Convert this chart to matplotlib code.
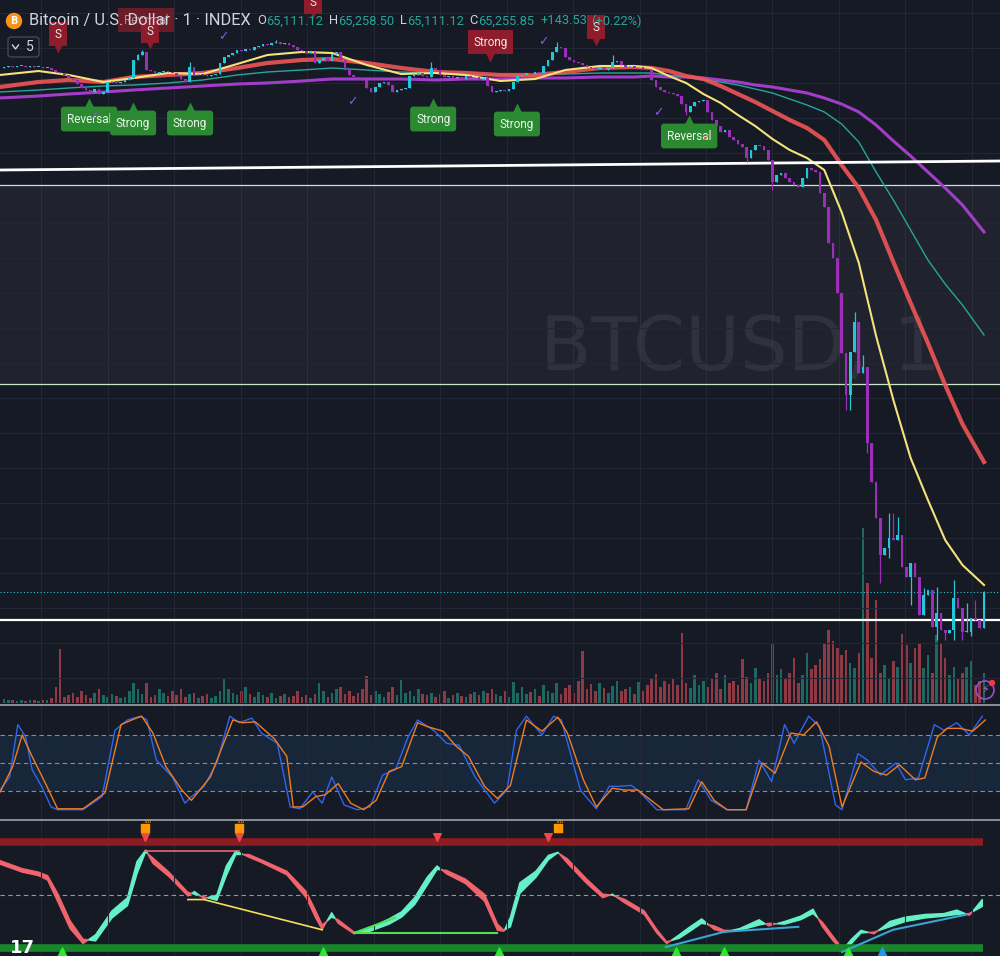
import matplotlib
matplotlib.use('Agg')
import matplotlib.pyplot as plt
from matplotlib.patches import Circle, FancyBboxPatch
from matplotlib.lines import Line2D
import numpy as np

# ---- price data (1 minute candles, BTCUSD) ----
first_open = 67352
closes = [
    67356, 67360, 67356, 67360, 67360, 67356, 67360, 67356, 67356, 67352,
    67352, 67344, 67336, 67332, 67324, 67312, 67304, 67288, 67272, 67264,
    67256, 67268, 67248, 67256, 67296, 67300, 67292, 67296, 67304, 67312,
    67384, 67404, 67416, 67344, 67340, 67332, 67336, 67340, 67336, 67332,
    67320, 67308, 67296, 67356, 67324, 67328, 67324, 67320, 67324, 67328,
    67372, 67396, 67404, 67412, 67424, 67420, 67428, 67424, 67436, 67440,
    67448, 67444, 67452, 67456, 67448, 67452, 67444, 67436, 67424, 67420,
    67412, 67416, 67372, 67384, 67392, 67380, 67408, 67416, 67384, 67344,
    67324, 67316, 67308, 67304, 67272, 67256, 67276, 67292, 67296, 67284,
    67256, 67264, 67268, 67272, 67320, 67324, 67332, 67320, 67316, 67352,
    67344, 67324, 67316, 67320, 67312, 67316, 67308, 67320, 67312, 67316,
    67304, 67312, 67280, 67256, 67260, 67264, 67260, 67268, 67296, 67320,
    67324, 67332, 67328, 67336, 67332, 67360, 67384, 67416, 67436, 67432,
    67396, 67384, 67376, 67372, 67364, 67356, 67352, 67348, 67356, 67344,
    67352, 67376, 67380, 67364, 67356, 67360, 67352, 67356, 67348, 67344,
    67304, 67276, 67264, 67256, 67252, 67248, 67240, 67208, 67176, 67200,
    67216, 67220, 67224, 67176, 67144, 67120, 67096, 67104, 67076, 67064,
    67048, 67036, 66992, 67024, 67044, 67040, 67024, 66984, 66896, 66924,
    66932, 66912, 66896, 66884, 66876, 66912, 66952, 66944, 66936, 66852,
    66796, 66652, 66592, 66452, 66212, 66044, 66216, 66336, 66132, 66156,
    65852, 65696, 65552, 65404, 65432, 65472, 65464, 65484, 65356, 65316,
    65372, 65316, 65164, 65244, 65264, 65116, 65172, 65104, 65092, 65104,
    65232, 65192, 65096, 65096, 65152, 65144, 65111.12, 65255.85,
]
wick_high = {31: 67410, 32: 67424, 43: 67376, 63: 67464, 99: 67376, 128: 67456,
             141: 67404, 197: 66376, 199: 66204, 205: 65572, 206: 65572,
             207: 65556, 213: 65272, 216: 65276, 220: 65304, 223: 65212,
             225: 65224, 227: 65258.50}
wick_low = {158: 67164, 172: 66976, 178: 66864, 195: 65984, 196: 65984,
            200: 65812, 203: 65292, 205: 65392, 210: 65204, 216: 65064,
            218: 65064, 220: 65064, 222: 65064, 224: 65080}
volumes = [
    4, 3, 3, 2, 3, 2, 3, 3, 2, 3,
    3, 5, 16, 54, 6, 8, 10, 6, 12, 8,
    5, 10, 14, 8, 6, 9, 7, 5, 6, 12,
    20, 14, 9, 20, 6, 8, 14, 10, 7, 12,
    8, 14, 6, 9, 10, 5, 7, 9, 5, 7,
    12, 25, 14, 10, 8, 12, 16, 9, 6, 11,
    8, 6, 10, 5, 7, 9, 6, 7, 12, 6,
    8, 5, 9, 20, 12, 6, 10, 14, 16, 9,
    12, 7, 10, 14, 27, 8, 12, 9, 6, 11,
    16, 8, 23, 10, 12, 7, 14, 9, 8, 10,
    6, 9, 12, 5, 8, 10, 7, 6, 9, 11,
    8, 12, 10, 14, 9, 7, 12, 6, 21, 10,
    16, 9, 11, 14, 7, 18, 12, 10, 20, 9,
    15, 18, 10, 22, 52, 14, 19, 12, 20, 15,
    10, 17, 22, 12, 14, 16, 9, 21, 12, 18,
    24, 29, 16, 22, 19, 24, 18, 70, 20, 15,
    28, 18, 22, 16, 24, 30, 14, 28, 20, 22,
    18, 44, 26, 20, 35, 24, 22, 30, 60, 28,
    34, 24, 30, 45, 20, 28, 50, 34, 38, 44,
    60, 73, 62, 55, 48, 53, 40, 35, 50, 175,
    120, 45, 103, 30, 38, 25, 42, 36, 69, 58,
    40, 55, 60, 35, 48, 30, 68, 60, 45, 28,
    36, 25, 30, 36, 42, 18, 22, 30,
]

# moving averages (values at candle index ma_idx)
ma_idx = [-1, 8, 15, 23, 30, 38, 46, 54, 61, 69, 76, 84, 92, 100, 107, 115, 123,
          130, 138, 146, 150, 154, 158, 162, 166, 170, 174, 178, 182, 186, 190,
          194, 198, 202, 206, 210, 214, 218, 222, 227]
ma_fast = [67324, 67340, 67324, 67296, 67312, 67332, 67328, 67368, 67404, 67416,
           67412, 67364, 67328, 67332, 67324, 67300, 67308, 67344, 67360, 67360,
           67352, 67320, 67292, 67248, 67212, 67164, 67120, 67068, 67024, 66992,
           66944, 66776, 66572, 66280, 66024, 65792, 65624, 65464, 65364, 65284]
ma_mid = [67276, 67296, 67304, 67296, 67316, 67324, 67332, 67352, 67372, 67384,
          67388, 67372, 67352, 67336, 67332, 67324, 67324, 67336, 67352, 67356,
          67352, 67340, 67320, 67308, 67280, 67248, 67216, 67180, 67144, 67112,
          67064, 66964, 66872, 66744, 66576, 66412, 66252, 66084, 65928, 65776]
ma_slow = [67256, 67264, 67272, 67280, 67284, 67292, 67304, 67324, 67336, 67344,
           67352, 67344, 67336, 67332, 67324, 67324, 67324, 67328, 67332, 67332,
           67332, 67324, 67316, 67304, 67296, 67284, 67268, 67252, 67228, 67204,
           67176, 67128, 67056, 66936, 66824, 66704, 66584, 66488, 66404, 66284]
ma_long = [67232, 67240, 67248, 67256, 67264, 67272, 67280, 67288, 67292, 67300,
           67308, 67308, 67308, 67304, 67308, 67308, 67312, 67312, 67316, 67316,
           67320, 67316, 67316, 67312, 67304, 67296, 67284, 67276, 67264, 67252,
           67232, 67208, 67176, 67124, 67060, 67000, 66936, 66872, 66804, 66696]

support_level = 65144
zone = (66088, 66884)
trend_x = [-0.93, 230.7]
trend_y = [66944, 66980]

# signal labels on the price chart
green_labels = [(19.7, 67148, 67208, 'Reversal'), (29.9, 67132, 67192, 'Strong'),
                (43.1, 67132, 67192, 'Strong'), (99.4, 67148, 67208, 'Strong'),
                (118.8, 67128, 67188, 'Strong'), (158.7, 67080, 67140, 'Reversal')]
red_labels = [(12.5, 67488, 67436, 'S'), (33.8, 67500, 67452, 'S'),
              (71.6, 67616, 67576, 'S'), (112.6, 67456, 67400, 'Strong'),
              (137.1, 67516, 67464, 'S')]
checks = [(50.7, 67476), (80.8, 67216), (124.9, 67456), (151.5, 67172), (20.6, 67156)]

# stochastic
k_x = [-0.9, 1.3, 3.2, 5.0, 6.5, 8.7, 10.9, 12.4, 18.3, 22.7,
       25.7, 28.6, 31.6, 33.1, 35.3, 39.0, 41.9, 43.4, 46.3, 49.3,
       52.3, 54.5, 57.4, 59.6, 63.3, 66.3, 68.5, 71.5, 73.7, 75.9,
       78.8, 81.8, 84.8, 87.7, 90.7, 93.6, 95.8, 99.5, 102.5, 105.4,
       109.1, 113.6, 116.5, 118.7, 121.0, 124.6, 127.3, 129.1, 133.5, 137.2,
       140.2, 142.4, 145.3, 146.8, 151.2, 157.9, 160.8, 163.8, 167.5, 171.9,
       174.9, 177.8, 180.8, 183.0, 186.4, 188.9, 192.6, 194.1, 197.8, 200.0,
       203.0, 206.6, 208.8, 211.8, 215.5, 217.7, 220.7, 223.6, 226.6]
k_val = [21, 35, 91, 78, 43, 25, 3, 0, 0, 14,
         85, 96, 100, 96, 53, 35, 7, 14, 25, 50,
         100, 93, 98, 82, 71, 3, 1, 19, 7, 35,
         5, 0, 3, 37, 43, 78, 96, 85, 71, 69,
         35, 7, 21, 85, 100, 80, 100, 96, 21, 1,
         25, 25, 26, 21, 0, 0, 32, 10, 0, 0,
         53, 30, 91, 71, 100, 89, 5, 0, 60, 53,
         37, 50, 32, 34, 91, 85, 93, 80, 100]
d_x = [-0.9, 2.0, 4.2, 6.5, 9.4, 12.4, 18.3, 23.4, 27.1, 30.1,
       31.9, 34.5, 37.5, 41.2, 43.4, 47.8, 53.0, 55.2, 58.2, 62.6,
       65.5, 67.0, 69.2, 72.2, 74.4, 77.4, 80.3, 83.3, 86.2, 89.2,
       92.1, 95.8, 98.0, 101.7, 104.7, 107.6, 111.3, 114.3, 117.3, 121.0,
       124.6, 128.3, 130.5, 134.2, 137.2, 140.9, 143.8, 146.8, 152.7, 158.6,
       161.6, 164.5, 167.5, 171.9, 175.6, 178.6, 182.3, 185.2, 188.2, 191.1,
       194.1, 198.5, 201.5, 204.4, 207.4, 211.1, 213.3, 216.2, 218.5, 221.4,
       224.4, 227.3]
d_val = [19, 46, 80, 57, 30, 1, 1, 18, 91, 97,
         100, 82, 46, 21, 10, 35, 96, 93, 94, 76,
         57, 3, 3, 14, 16, 28, 7, 0, 10, 41,
         46, 93, 89, 84, 68, 57, 25, 12, 26, 96,
         84, 99, 82, 32, 3, 23, 21, 21, 0, 1,
         30, 10, 0, 0, 50, 39, 82, 80, 94, 68,
         3, 51, 41, 37, 48, 32, 34, 78, 87, 87,
         84, 96]

# wave oscillator
wt_x = [-0.9, 4.2, 8.0, 10.1, 12.4, 15.3, 18.3, 21.2, 25.0, 28.6,
        30.8, 32.8, 34.5, 38.2, 42.6, 44.1, 46.3, 49.3, 51.5, 53.7,
        56.7, 59.6, 65.5, 70.0, 72.2, 73.7, 75.9, 77.4, 81.1, 84.8,
        89.2, 92.1, 95.1, 98.0, 100.3, 102.5, 106.9, 111.3, 114.3, 115.8,
        117.3, 119.5, 123.2, 126.1, 128.3, 130.5, 135.0, 138.7, 140.9, 143.8,
        148.3, 151.2, 153.5, 156.4, 158.6, 161.6, 164.5, 166.8, 170.4, 174.9,
        177.1, 180.8, 184.5, 187.4, 189.6, 191.9, 194.1, 196.3, 198.5, 201.5,
        205.2, 208.8, 213.3, 217.7, 220.7, 223.6, 226.6]
wt1 = [35, 26, 22, 17, -7, -38, -55, -45, -18, -3,
       38, 51, 36, 21, -1, 4, -4, 0, 33, 50,
       43, 37, 23, -3, -26, -39, -20, -32, -44, -37,
       -27, -19, -3, 20, 33, 24, 13, -7, -40, -41,
       -25, 14, 27, 45, 48.5, 36, 13, -3, 1, -9,
       -22, -43, -55, -45, -37, -27, -39, -42, -38, -28,
       -35, -30, -24, -16, -36, -51, -63, -50, -40, -44,
       -30, -25, -22, -21, -17, -23, -5]
wt2 = [39, 30, 26, 22, 2, -29, -50, -52, -26, -12,
       24, 49, 42, 26, 3, 1, -2, -6, 22, 46,
       46, 40, 27, 4, -18, -34, -25, -28, -42, -41,
       -33, -25, -11, 11, 29, 28, 18, 1, -33, -40,
       -36, 2, 20, 40, 48, 41, 18, 1, 0, -5,
       -18, -39, -53, -49, -42, -32, -35, -40, -40, -34,
       -32, -33, -28, -21, -31, -46, -60, -55, -43, -42,
       -36, -30, -26, -24, -22, -21, -13]
div_bear = ([32.7, 54.4], [49.7, 49.7])
div_yellow = ([42.6, 46.3, 73.7], [-5.1, -5.1, -39.4])
div_green = ([81.1, 114.2], [-42.9, -42.9])
div_green2 = ([81.1, 90.6], [-42.9, -25.7])
div_blue = ([153.3, 166.8, 184.0], [-58.9, -41.7, -36.0])
div_blue2 = ([194.1, 205.9, 222.8], [-64.6, -39.4, -22.3])
sell_marks = [32.7, 54.4, 100.3, 126.0]
buy_marks = [13.4, 73.9, 114.7, 155.7, 166.8, 195.5]
blue_marks = [203.4]
vb_marks = [32.7, 54.4, 128.3]

# ---- style ----
BG = '#161a25'
GRID = '#232735'
UP = '#26c6da'
DOWN = '#9c2fb8'
TEAL = '#26a69a'
H = 956.0
XMIN, XMAX = -0.93, 230.7
grid_x = np.arange(8.6, XMAX, 15.4)
FONT = ['Roboto', 'DejaVu Sans']

fig = plt.figure(figsize=(10, 9.56), dpi=100)
fig.patch.set_facecolor(BG)


def add_pane(top, bottom, face=BG):
    a = fig.add_axes([0, 1 - bottom / H, 1, (bottom - top) / H])
    a.set_facecolor(face)
    a.set_xlim(XMIN, XMAX)
    a.set_xticks(grid_x)
    a.tick_params(length=0, labelbottom=False, labelleft=False)
    for s in a.spines.values():
        s.set_visible(False)
    return a


# volume underneath, price on top
axv = add_pane(0, 705)
axv.set_ylim(-2, 703)
axv.set_yticks([])
axv.grid(axis='x', color=GRID, lw=0.8)

ax = add_pane(0, 705, face='none')
ax.set_ylim(64804, 67624)
ax.set_yticks(np.arange(64912, 67624, 140))
ax.grid(axis='y', color=GRID, lw=0.8)

x = np.arange(len(closes))
opens = [first_open] + closes[:-1]
up = [c >= o for o, c in zip(opens, closes)]
colors = [UP if u else DOWN for u in up]
highs = [wick_high.get(i, max(o, c)) for i, (o, c) in enumerate(zip(opens, closes))]
lows = [wick_low.get(i, min(o, c)) for i, (o, c) in enumerate(zip(opens, closes))]
bottoms = [min(o, c) for o, c in zip(opens, closes)]
bodies = [max(abs(c - o), 5) for o, c in zip(opens, closes)]

vcol = [(0.13, 0.67, 0.58, 0.55) if u else (0.95, 0.33, 0.36, 0.55) for u in up]
axv.bar(x, volumes, width=0.6, color=vcol)

ax.axhspan(zone[0], zone[1], color='white', alpha=0.045, lw=0, zorder=0.2)
ax.axhline(zone[0], color='#c8e6c9', lw=0.9, zorder=1)
ax.axhline(zone[1], color='#c8e6c9', lw=0.9, zorder=1)
ax.text(124.2, 66228, 'BTCUSD, 1', fontsize=54, color='#3c404b', alpha=0.55,
        ha='left', va='center', zorder=0.3)

ax.plot(ma_idx, ma_long, color='#a23dc8', lw=2.2, zorder=2, solid_joinstyle='round')
ax.plot(ma_idx, ma_slow, color=TEAL, lw=1.0, zorder=2, solid_joinstyle='round')
ax.plot(ma_idx, ma_mid, color='#f05656', lw=3.0, alpha=0.9, zorder=2, solid_joinstyle='round')
ax.plot(ma_idx, ma_fast, color='#f5e27a', lw=1.5, zorder=2.1, solid_joinstyle='round')

ax.plot(trend_x, trend_y, color='white', lw=2.0, zorder=2.5)
ax.axhline(support_level, color='white', lw=1.6, zorder=2.5)
ax.axhline(closes[-1], color=UP, lw=0.8, ls=(0, (1, 2)), zorder=2.5)

ax.vlines(x, lows, highs, colors=colors, lw=0.9, zorder=3)
ax.bar(x, bodies, bottom=bottoms, width=0.62, color=colors, zorder=3)

for i, by, ty, txt in green_labels:
    ax.plot(i, ty, marker='^', ms=9, color='#2b8a31', mec='none', zorder=4)
    ax.text(i, by, txt, fontsize=8.5, color='#eaf5ea', ha='center', va='center',
            family=FONT, zorder=5,
            bbox=dict(boxstyle='round,pad=0.5,rounding_size=0.25', fc='#2b8a31', ec='none'))
ax.text(32.9, 67544, 'Reversal', fontsize=8.5, color='#eaeaea', ha='center', va='center',
        family=FONT, alpha=0.55, zorder=4,
        bbox=dict(boxstyle='square,pad=0.5', fc='#8e1c2a', ec='none', alpha=0.7))
for i, by, ty, txt in red_labels:
    ax.plot(i, ty, marker='v', ms=9, color='#8e1c2a', mec='none', zorder=4)
    ax.text(i, by, txt, fontsize=8.5, color='#eaeaea', ha='center', va='center',
            family=FONT, zorder=5,
            bbox=dict(boxstyle='square,pad=0.45', fc='#8e1c2a', ec='none'))
for i, p in checks:
    ax.text(i, p, '\u2713', fontsize=9, color='#7e5bd6', ha='center', va='center', zorder=6)
ax.text(162.6, 67072, '\u2713', fontsize=8, color='#e8663c', ha='center', va='center', zorder=6)

# stochastic pane
axs = add_pane(705, 820)
axs.set_ylim(-11, 112)
axs.set_yticks([])
axs.grid(axis='x', color=GRID, lw=0.8)
axs.axhspan(20, 80, color='#2979c2', alpha=0.13, lw=0)
for lvl in (80, 50, 20):
    axs.axhline(lvl, color='#8a8d97', lw=0.8, dashes=(4, 3))
axs.plot(k_x, k_val, color='#2f66f0', lw=1.0)
axs.plot(d_x, d_val, color='#f07c22', lw=1.0)

# oscillator pane
axo = add_pane(820, 956)
axo.set_ylim(-69.1, 85.1)
axo.set_yticks([])
axo.grid(axis='x', color=GRID, lw=0.8)
axo.axhline(0, color='#9598a1', lw=0.8, dashes=(4, 3))
axo.plot([XMIN, 226.8], [60, 60], color='#8c1b22', lw=5.5, solid_capstyle='butt')
axo.plot([XMIN, 226.8], [-60, -60], color='#17872a', lw=5.5, solid_capstyle='butt')
w1 = np.array(wt1)
w2 = np.array(wt2)
axo.fill_between(wt_x, w1, w2, where=w1 >= w2, interpolate=True, color='#66f0c8', lw=1.0)
axo.fill_between(wt_x, w1, w2, where=w1 < w2, interpolate=True, color='#f0646c', lw=1.0)
axo.plot(*div_bear, color='#f0646c', lw=1.2)
axo.plot(*div_yellow, color='#f2e05a', lw=1.2)
axo.plot(*div_green, color='#4fe04f', lw=1.5)
axo.plot(*div_green2, color='#4fe04f', lw=1.5)
axo.plot(*div_blue, color='#39a3d6', lw=1.5)
axo.plot(*div_blue2, color='#39a3d6', lw=1.5)
axo.scatter(sell_marks, [66] * len(sell_marks), marker='v', s=30, color='#f04848', zorder=4)
axo.scatter(buy_marks, [-64] * len(buy_marks), marker='^', s=45, color='#2ee82e', zorder=4)
axo.scatter(blue_marks, [-64] * len(blue_marks), marker='^', s=45, color='#2196f3', zorder=4)
axo.scatter(vb_marks, [76] * len(vb_marks), marker='s', s=40, color='#ff9800', zorder=4)
for v in vb_marks:
    axo.text(v + 0.6, 83, 'Vb', fontsize=4.5, color='#ff9800', ha='center', va='center')

# pane separators
for yy in (705, 820):
    fig.add_artist(Line2D([0, 1], [1 - yy / H] * 2, color='#9ea1aa', lw=1.2))

# header
fig.add_artist(Circle((0.14, (H - 21) / 100), 0.075, transform=fig.dpi_scale_trans,
                      color='#f7931a'))
fig.text(0.014, 1 - 21 / H, 'B', fontsize=7, color='white', weight='bold',
         ha='center', va='center')
fig.text(0.029, 1 - 21 / H, 'Bitcoin / U.S. Dollar \u00b7 1 \u00b7 INDEX', fontsize=11.8,
         color='#d1d4dc', va='center', family=FONT)

# OHLC legend: pieces laid out one after another
ohlc = [('O', '#d1d4dc', 0), ('65,111.12', TEAL, 6), ('H', '#d1d4dc', 0),
        ('65,258.50', TEAL, 6), ('L', '#d1d4dc', 0), ('65,111.12', TEAL, 6),
        ('C', '#d1d4dc', 0), ('65,255.85', TEAL, 6), ('+143.53', TEAL, 4),
        ('(+0.22%)', TEAL, 0)]
renderer = fig.canvas.get_renderer()
px = 257.0
for txt, col, gap in ohlc:
    t = fig.text(px / 1000, 1 - 21 / H, txt, fontsize=9.3, color=col, va='center',
                 family=FONT)
    px = t.get_window_extent(renderer).x1 + gap

fig.add_artist(FancyBboxPatch((0.008, 1 - 57 / H), 0.031, 20 / H, transform=fig.transFigure,
                              boxstyle='round,pad=0,rounding_size=0.003',
                              fc='none', ec='#434651', lw=1))
fig.add_artist(Line2D([0.0125, 0.0155, 0.0185], [1 - 45 / H, 1 - 49 / H, 1 - 45 / H],
                      color='#d1d4dc', lw=1))
fig.text(0.026, 1 - 47 / H, '5', fontsize=10, color='#d1d4dc', va='center', family=FONT)

# bottom-right icon and logo
fig.add_artist(Circle((9.85, (H - 690) / 100), 0.09, transform=fig.dpi_scale_trans,
                      fc='none', ec='#9c4dcc', lw=1.2))
fig.text(0.985, 1 - 690 / H, '\u26a1', fontsize=8, color='#b86ad8', ha='center', va='center')
fig.add_artist(Circle((9.92, (H - 683) / 100), 0.025, transform=fig.dpi_scale_trans,
                      color='#f23645'))
fig.text(0.010, 1 - 948 / H, '17', fontsize=13, color='white', weight='bold',
         va='center', family=['DejaVu Sans'])

fig.savefig('out.png', dpi=100, facecolor=BG)
